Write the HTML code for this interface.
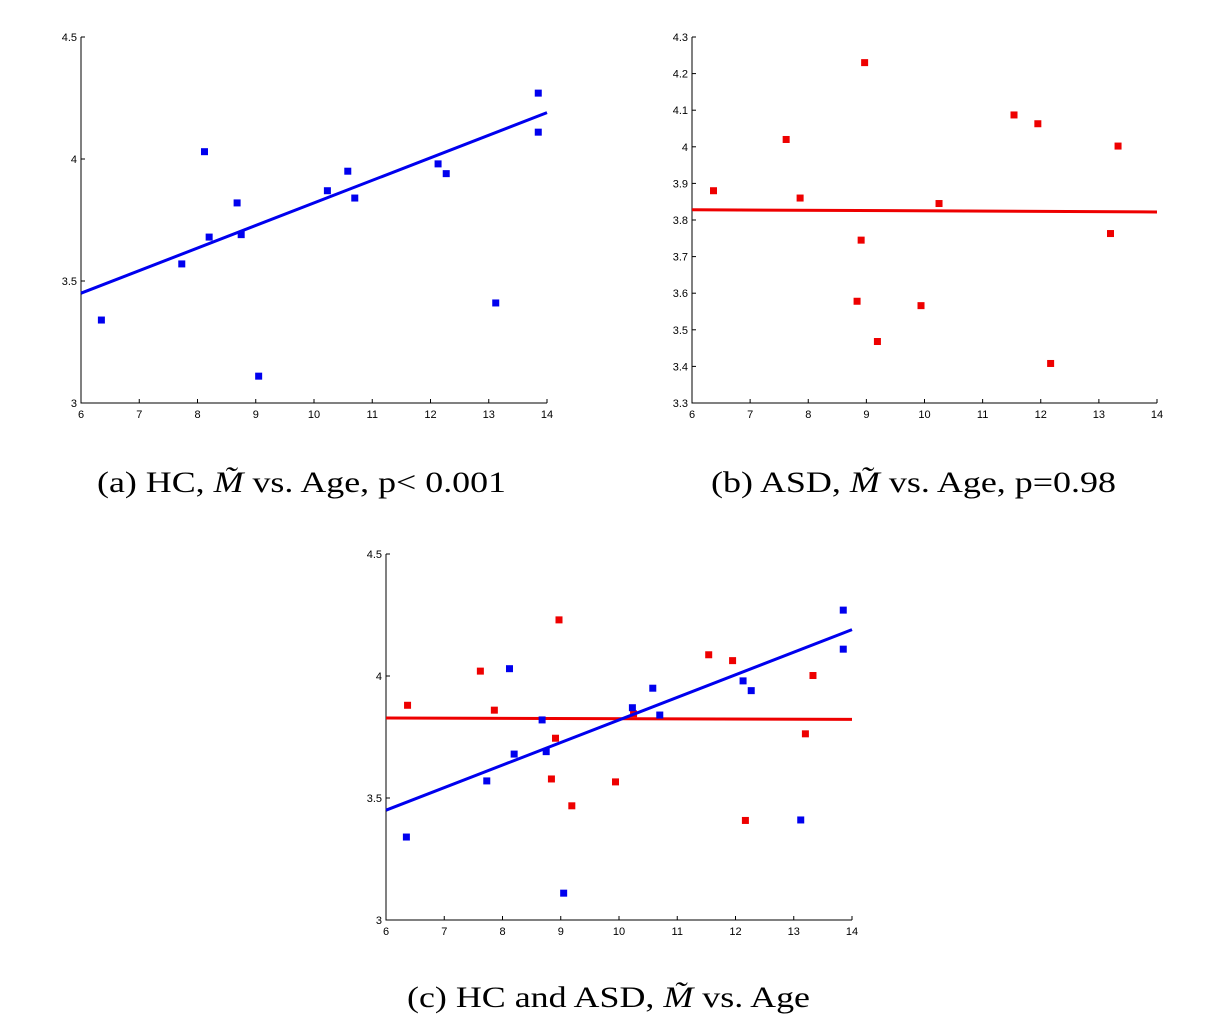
<!DOCTYPE html>
<html><head><meta charset="utf-8"><style>
html,body{margin:0;padding:0;background:#fff;width:1217px;height:1016px;overflow:hidden}
svg text{font-family:"Liberation Sans",sans-serif}
.cap{font-family:"Liberation Serif",serif;font-size:30px;fill:#000}
</style></head><body>
<svg id="svg" width="1217" height="1016" xmlns="http://www.w3.org/2000/svg">
<text class="cap" x="97" y="492" textLength="409" lengthAdjust="spacingAndGlyphs">(a) HC, <tspan font-style="italic">M̃</tspan> vs. Age, p&lt; 0.001</text>
<text class="cap" x="711" y="492" textLength="405" lengthAdjust="spacingAndGlyphs">(b) ASD, <tspan font-style="italic">M̃</tspan> vs. Age, p=0.98</text>
<text class="cap" x="407" y="1007" textLength="403" lengthAdjust="spacingAndGlyphs">(c) HC and ASD, <tspan font-style="italic">M̃</tspan> vs. Age</text>
</svg>
<script>
const hcAge=[6.35,7.73,8.12,8.2,8.68,8.75,9.05,10.23,10.58,10.7,12.13,12.27,13.12,13.85,13.85];
const hcM=[3.34,3.57,4.03,3.68,3.82,3.69,3.11,3.87,3.95,3.84,3.98,3.94,3.41,4.27,4.11];
const hcFit=[3.45,4.19];
const asdAge=[6.37,7.62,7.86,8.97,8.91,8.84,9.19,9.94,10.25,11.54,11.95,12.17,13.2,13.33];
const asdM=[3.88,4.02,3.86,4.23,3.745,3.578,3.468,3.566,3.845,4.087,4.063,3.408,3.763,4.002];
const asdFit=[3.828,3.822];
const xTicks=[6,7,8,9,10,11,12,13,14];
const yTicksA=[3,3.5,4,4.5];
const yTicksB=[3.3,3.4,3.5,3.6,3.7,3.8,3.9,4,4.1,4.2,4.3];
const NS="http://www.w3.org/2000/svg";
const svg=document.getElementById('svg');
function el(t,a,p){const e=document.createElementNS(NS,t);for(const k in a)e.setAttribute(k,a[k]);(p||svg).appendChild(e);return e;}
function panel(name,x0,x1,yTop,yBot,ymin,ymax,yTicks,series){
  const g=el('g',{});
  
  
  const sx=v=>x0+(v-6)/8*(x1-x0), sy=v=>yBot-(v-ymin)/(ymax-ymin)*(yBot-yTop);
  const ax=el('path',{d:`M${x0},${yTop}V${yBot}H${x1}`,stroke:'#000','stroke-width':1,fill:'none'},g);
  
  
  xTicks.forEach(t=>{const x=sx(t);
    el('line',{x1:x,x2:x,y1:yBot,y2:yBot-4,stroke:'#000'},g);
    const tx=el('text',{x:x,y:yBot+15,'font-size':11,'text-anchor':'middle'},g);tx.textContent=t;
    
    });
  yTicks.forEach(t=>{const y=sy(t);
    el('line',{x1:x0,x2:x0+4,y1:y,y2:y,stroke:'#000'},g);
    const tx=el('text',{x:x0-4,y:y+4,'font-size':11,'text-anchor':'end'},g);tx.textContent=t;
    
    });
  series.forEach(s=>{
    const ln=el('line',{x1:sx(6),y1:sy(s.fit[0]),x2:sx(14),y2:sy(s.fit[1]),stroke:s.c,'stroke-width':3},g);
    
    
    s.x.forEach((v,i)=>{const r=el('rect',{x:sx(v)-3.5,y:sy(s.y[i])-3.5,width:7,height:7,fill:s.c},g);
      
      });
  });
}
const HC={n:'hc',c:'#0000ee',x:hcAge,y:hcM,fit:hcFit};
const ASD={n:'asd',c:'#ee0000',x:asdAge,y:asdM,fit:asdFit};
panel('panel-a',81,547,37,403,3,4.5,yTicksA,[HC]);
panel('panel-b',692,1157,37,403,3.3,4.3,yTicksB,[ASD]);
panel('panel-c',386,852,554,920,3,4.5,yTicksA,[ASD,HC]);
</script>
</body></html>
